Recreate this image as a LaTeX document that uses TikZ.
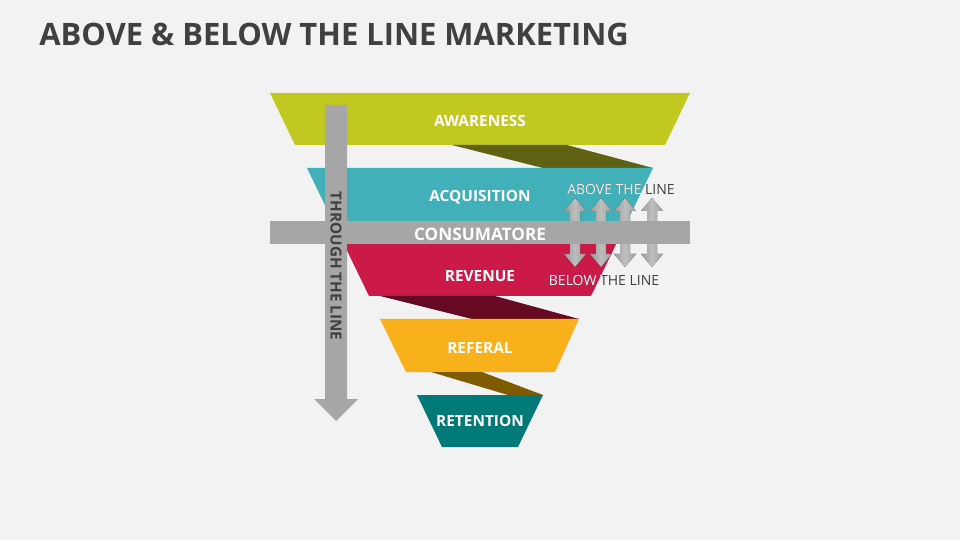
\documentclass[tikz,border=0pt]{standalone}
\usepackage{fontspec}
\setmainfont{Open Sans}
\definecolor{bg_gray}{HTML}{F2F2F2}
\definecolor{bar_gray}{HTML}{A6A6A6}
\definecolor{text_dark}{HTML}{404040}
\definecolor{awareness_green}{HTML}{C1C920}
\definecolor{awareness_shadow}{HTML}{5F6113}
\definecolor{acquisition_teal}{HTML}{42B0B9}
\definecolor{revenue_red}{HTML}{CC1A48}
\definecolor{revenue_shadow}{HTML}{660A24}
\definecolor{referal_yellow}{HTML}{F8B11A}
\definecolor{referal_shadow}{HTML}{7F5B00}
\definecolor{retention_teal}{HTML}{007A78}
\tikzset{
  band_label/.style={text=white, font=\fontsize{7.7}{10}\selectfont\bfseries, inner sep=0pt},
  side_label/.style={font=\fontsize{7}{9}\selectfont, inner sep=0pt},
  line_arrow/.style={left color=black!33, right color=black!33, middle color=black!18, opacity=0.9},
}
\def\ArrowTop {198}
\def\ArrowBottom {267}

\begin{document}
\begin{tikzpicture}[x=0.5pt, y=-0.5pt]
        \fill[bg_gray] (0,0) rectangle (960,540);
        \useasboundingbox (0,0) rectangle (960,540);
        \node[anchor=west, text=text_dark, font=\fontsize{15.45}{19}\selectfont\bfseries, inner sep=0pt] (title) at (39,34) {ABOVE \& BELOW THE LINE MARKETING};
        % funnel
        \fill[awareness_green] (270,93) -- (690,93) -- (665,145) -- (295,145) -- cycle;
        \fill[awareness_shadow] (452,145) -- (567,145) -- (653,168) -- (543,168) -- cycle;
        \fill[acquisition_teal] (307,168) -- (653,168) -- (622,232) -- (338,232) -- cycle;
        \fill[revenue_red] (338,232) -- (622,232) -- (591,296) -- (369,296) -- cycle;
        \fill[revenue_shadow] (380,296) -- (495,296) -- (579,319) -- (472,319) -- cycle;
        \fill[referal_yellow] (380,319) -- (579,319) -- (555,372) -- (406,372) -- cycle;
        \fill[referal_shadow] (431,372) -- (482,372) -- (543,395) -- (508,395) -- cycle;
        \fill[retention_teal] (417,395) -- (543,395) -- (518,447) -- (442,447) -- cycle;
        % above / below arrows
        \foreach \cx in {575,601,625,652} {
            \fill[line_arrow] (\cx,\ArrowTop) -- (\cx+11,\ArrowTop+13) -- (\cx+5,\ArrowTop+13)
              -- (\cx+5,\ArrowBottom-13) -- (\cx+11,\ArrowBottom-13) -- (\cx,\ArrowBottom)
              -- (\cx-11,\ArrowBottom-13) -- (\cx-5,\ArrowBottom-13) -- (\cx-5,\ArrowTop+13)
              -- (\cx-11,\ArrowTop+13) -- cycle;
          }
        % consumer bar and through the line arrow
        \fill[bar_gray] (270,221) rectangle (690,244);
        \fill[bar_gray] (325,105) -- (347,105) -- (347,399) -- (358,399) -- (336,421)
          -- (314,399) -- (325,399) -- cycle;
        \node[band_label] (awareness) at (480,121) {AWARENESS};
        \node[band_label] (acquisition) at (480,197) {ACQUISITION};
        \node[band_label, font=\fontsize{8.6}{10}\selectfont\bfseries] (consumatore) at (480,234) {CONSUMATORE};
        \node[band_label] (revenue) at (480,276) {REVENUE};
        \node[band_label] (referal) at (480,348) {REFERAL};
        \node[band_label] (retention) at (480,421) {RETENTION};
        \node[text=text_dark, font=\fontsize{7.6}{10}\selectfont\bfseries, rotate=-90, inner sep=0pt] (through) at (336,266) {THROUGH THE LINE};
        % side labels, white where they lie on the funnel
        \node[side_label, text=text_dark] (above) at (621,189) {ABOVE THE LINE};
        \node[side_label, text=text_dark] (below) at (604,280) {BELOW THE LINE};
        \begin{scope}
            \clip (307,168) -- (653,168) -- (591,296) -- (369,296) -- cycle;
            \node[side_label, text=white] at (above) {ABOVE THE LINE};
            \node[side_label, text=white] at (below) {BELOW THE LINE};
          \end{scope}
      \end{tikzpicture}
\end{document}
